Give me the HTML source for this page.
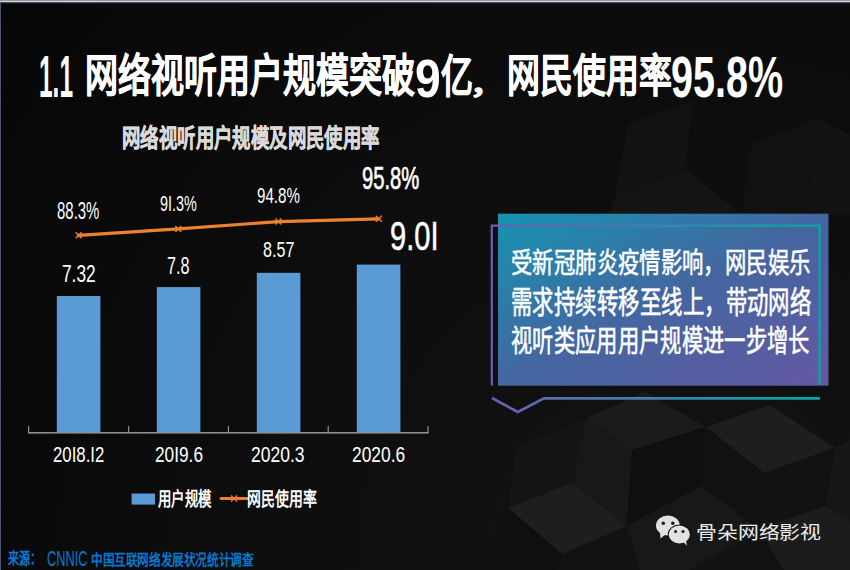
<!DOCTYPE html>
<html lang="zh-CN"><head><meta charset="utf-8">
<style>
html,body{margin:0;padding:0;}
body{width:850px;height:570px;overflow:hidden;position:relative;background:#0b0b0b;font-family:"Liberation Sans",sans-serif;}
.a{position:absolute;white-space:nowrap;line-height:1;transform-origin:0 0;}
#bg{position:absolute;left:0;top:0;}
</style></head><body>
<svg id="bg" width="850" height="570" viewBox="0 0 850 570">
  <defs><radialGradient id="bgg" gradientUnits="userSpaceOnUse" cx="680" cy="560" r="900"><stop offset="0" stop-color="#131313"/><stop offset="0.5" stop-color="#0d0d0d"/><stop offset="1" stop-color="#060606"/></radialGradient></defs>
  <rect x="0" y="0" width="850" height="570" fill="url(#bgg)"/>
  <!-- low-poly background -->
  <g>
    <polygon points="628,124 694,100 685,169 615,196" fill="#121212"/>
    <polygon points="694,100 751,143 741,214 685,169" fill="#0e0e0e"/>
    <polygon points="751,143 819,118 810,189 741,214" fill="#111111"/>
    <polygon points="819,118 850,135 850,200 810,189" fill="#131313"/>
    <polygon points="615,196 685,169 741,214 610,214" fill="#141414"/>
    <polygon points="741,214 810,189 850,200 850,214" fill="#121212"/>
    <polygon points="516,447 587,418 572,483 508,508" fill="#151515"/>
    <polygon points="508,508 572,483 627,526 562,554" fill="#1e1e1e"/>
    <polygon points="587,418 632,450 627,526 572,483" fill="#181818"/>
    <polygon points="587,418 645,392 706,427 632,450" fill="#1b1b1b"/>
    <polygon points="632,450 706,427 701,486 627,526" fill="#0f0f0f"/>
    <polygon points="706,427 770,405 835,448 764,473" fill="#1e1e1e"/>
    <polygon points="706,427 764,473 759,529 701,486" fill="#111111"/>
    <polygon points="764,473 835,448 825,506 759,529" fill="#121212"/>
    <polygon points="627,526 701,486 759,529 690,570 640,570" fill="#181818"/>
    <polygon points="759,529 825,506 850,521 850,570 784,570" fill="#1c1c1c"/>
    <polygon points="835,448 850,440 850,521 825,506" fill="#171717"/>
    <polygon points="508,508 562,554 555,570 480,570" fill="#0f0f0f"/>
  </g>
  <!-- top/left border -->
  <rect x="0" y="0" width="850" height="1" fill="#9a9a9a"/>
  <rect x="0" y="1" width="850" height="1" fill="#d4d4d4"/>
  <rect x="0" y="2" width="850" height="1" fill="#3e4e68"/>
  <rect x="0" y="3" width="850" height="1" fill="#141a24"/>
  <rect x="0" y="2" width="1" height="568" fill="#4a5670"/>

  <!-- axis -->
  <rect x="28" y="432" width="400.5" height="1.6" fill="#8f8f8f"/>
  <rect x="28" y="426" width="1.2" height="7" fill="#8f8f8f"/>
  <rect x="128" y="426" width="1.2" height="7" fill="#8f8f8f"/>
  <rect x="227.8" y="426" width="1.2" height="7" fill="#8f8f8f"/>
  <rect x="327.6" y="426" width="1.2" height="7" fill="#8f8f8f"/>
  <rect x="427.4" y="426" width="1.2" height="7" fill="#8f8f8f"/>
  <!-- bars -->
  <rect x="56.8" y="296" width="43.6" height="136" fill="#5b9bd5"/>
  <rect x="156.8" y="287.1" width="43.6" height="144.9" fill="#5b9bd5"/>
  <rect x="256.8" y="272.8" width="43.6" height="159.2" fill="#5b9bd5"/>
  <rect x="356.8" y="264.6" width="43.6" height="167.4" fill="#5b9bd5"/>
  <!-- line -->
  <polyline points="78.6,235.3 178.3,228.9 278.4,221.6 378.8,218.8" fill="none" stroke="#ef8030" stroke-width="3.2" stroke-linecap="round" stroke-linejoin="round"/>
  <g stroke="#ed7d31" stroke-width="1.4">
    <path d="M75.6,232.3 L81.6,238.3 M81.6,232.3 L75.6,238.3"/>
    <path d="M175.3,225.9 L181.3,231.9 M181.3,225.9 L175.3,231.9"/>
    <path d="M275.4,218.6 L281.4,224.6 M281.4,218.6 L275.4,224.6"/>
    <path d="M375.8,215.8 L381.8,221.8 M381.8,215.8 L375.8,221.8"/>
  </g>
  <!-- legend -->
  <rect x="131.6" y="493.5" width="23.4" height="11.1" fill="#5b9bd5"/>
  <line x1="221" y1="498.6" x2="247" y2="498.6" stroke="#ed7d31" stroke-width="3" stroke-linecap="round"/>
  <path d="M231,495.6 L237,501.6 M237,495.6 L231,501.6" stroke="#ed7d31" stroke-width="1.4"/>

  <!-- text box -->
  <defs>
    <linearGradient id="g1" x1="0" y1="0" x2="1" y2="1">
      <stop offset="0" stop-color="#1594b0"/>
      <stop offset="0.5" stop-color="#4466a0"/>
      <stop offset="1" stop-color="#6358a2"/>
    </linearGradient>
    <linearGradient id="g2" x1="0" y1="0" x2="1" y2="0">
      <stop offset="0" stop-color="#6e5cb4"/>
      <stop offset="1" stop-color="#08a8a2"/>
    </linearGradient>
  </defs>
  <rect x="498" y="213.7" width="330.5" height="172" fill="url(#g1)"/>
  <polyline points="491.8,385.4 491.8,225.6 819.6,225.6 819.6,384.7" fill="none" stroke="url(#g2)" stroke-width="2.2"/>
  <polyline points="492,398 517.8,412 544,398.4 820,398.4" fill="none" stroke="url(#g2)" stroke-width="2.6"/>
</svg>
<div class="a" id="t1" style="left:38.53px;top:46.64px;font-size:50px;font-weight:bold;color:#ffffff;transform:matrix(0.4892,0,0,1.1943,0,0);">1.1</div>
<div class="a" id="t2" style="left:85.02px;top:54.42px;font-size:50px;font-weight:900;color:#ffffff;transform:matrix(0.6606,0,0,0.9120,0,0);-webkit-text-stroke:0.5px #fff;">网络视听用户规模突破</div>
<div class="a" id="t3" style="left:414.95px;top:51.50px;font-size:50px;font-weight:bold;color:#ffffff;transform:matrix(0.9250,0,0,1.0833,0,0);">9</div>
<div class="a" id="t4" style="left:441.30px;top:55.22px;font-size:50px;font-weight:900;color:#ffffff;transform:matrix(0.6396,0,0,0.9102,0,0);-webkit-text-stroke:0.5px #fff;">亿</div>
<div class="a" id="t5" style="left:468.80px;top:71.42px;font-size:50px;font-weight:900;color:#ffffff;transform:matrix(0.7667,0,0,0.5526,0,0);-webkit-text-stroke:0.5px #fff;">，</div>
<div class="a" id="t6" style="left:506.63px;top:54.42px;font-size:50px;font-weight:900;color:#ffffff;transform:matrix(0.6581,0,0,0.9120,0,0);-webkit-text-stroke:0.5px #fff;">网民使用率</div>
<div class="a" id="t7" style="left:670.82px;top:48.50px;font-size:50px;font-weight:bold;color:#ffffff;transform:matrix(0.7913,0,0,1.1500,0,0);">95.8%</div>
<div class="a" id="ctitle" style="left:122.49px;top:125.95px;font-size:26px;font-weight:900;color:#d9d9d9;transform:matrix(0.7074,0,0,0.9741,0,0);-webkit-text-stroke:0.6px #d9d9d9;text-shadow:1px 1px 1px #000;">网络视听用户规模及网民使用率</div>
<div class="a" id="l1" style="left:57.40px;top:198.08px;font-size:20px;font-weight:normal;color:#ffffff;transform:matrix(0.7474,0,0,1.2071,0,0);">88.3%</div>
<div class="a" id="l2" style="left:160.08px;top:192.46px;font-size:20px;font-weight:normal;color:#ffffff;transform:matrix(0.7180,0,0,1.1143,0,0);">9I.3%</div>
<div class="a" id="l3" style="left:256.84px;top:184.44px;font-size:20px;font-weight:normal;color:#ffffff;transform:matrix(0.7571,0,0,1.1214,0,0);">94.8%</div>
<div class="a" id="l4" style="left:361.90px;top:163.57px;font-size:27px;font-weight:normal;color:#ffffff;transform:matrix(0.7487,0,0,1.1421,0,0);-webkit-text-stroke:0.6px #fff;">95.8%</div>
<div class="a" id="v1" style="left:61.94px;top:261.93px;font-size:20px;font-weight:normal;color:#ffffff;transform:matrix(0.8649,0,0,1.1571,0,0);">7.32</div>
<div class="a" id="v2" style="left:167.49px;top:254.43px;font-size:20px;font-weight:normal;color:#ffffff;transform:matrix(0.8115,0,0,1.1571,0,0);">7.8</div>
<div class="a" id="v3" style="left:263.00px;top:239.14px;font-size:20px;font-weight:normal;color:#ffffff;transform:matrix(0.8053,0,0,1.0857,0,0);">8.57</div>
<div class="a" id="v4" style="left:389.84px;top:216.23px;font-size:38px;font-weight:normal;color:#ffffff;transform:matrix(0.7650,0,0,1.0741,0,0);-webkit-text-stroke:0.5px #fff;">9.0I</div>
<div class="a" id="c1" style="left:52.76px;top:443.21px;font-size:20px;font-weight:normal;color:#ffffff;transform:matrix(0.8400,0,0,1.1286,0,0);">20I8.I2</div>
<div class="a" id="c2" style="left:154.94px;top:443.21px;font-size:20px;font-weight:normal;color:#ffffff;transform:matrix(0.8630,0,0,1.1286,0,0);">20I9.6</div>
<div class="a" id="c3" style="left:251.32px;top:443.21px;font-size:20px;font-weight:normal;color:#ffffff;transform:matrix(0.8750,0,0,1.1286,0,0);">2020.3</div>
<div class="a" id="c4" style="left:351.63px;top:443.21px;font-size:20px;font-weight:normal;color:#ffffff;transform:matrix(0.8700,0,0,1.1286,0,0);">2020.6</div>
<div class="a" id="lg1" style="left:158.30px;top:490.00px;font-size:19px;font-weight:900;color:#ffffff;transform:matrix(0.7053,0,0,1.0000,0,0);">用户规模</div>
<div class="a" id="lg2" style="left:247.27px;top:490.00px;font-size:19px;font-weight:900;color:#ffffff;transform:matrix(0.7309,0,0,1.0000,0,0);">网民使用率</div>
<div class="a" id="s1" style="left:8.40px;top:551.24px;font-size:17px;font-weight:bold;color:#0a78d0;transform:matrix(0.6500,0,0,0.9412,0,0);">来源：</div>
<div class="a" id="s2" style="left:47.40px;top:548.45px;font-size:17px;font-weight:normal;color:#0a78d0;transform:matrix(0.7509,0,0,1.2750,0,0);">CNNIC</div>
<div class="a" id="s3" style="left:90.92px;top:551.90px;font-size:17px;font-weight:bold;color:#0a78d0;transform:matrix(0.6826,0,0,0.9000,0,0);">中国互联网络发展状况统计调查</div>
<div class="a" id="tb1" style="left:510.89px;top:248.95px;font-size:30px;font-weight:normal;color:#ffffff;transform:matrix(0.7127,0,0,0.9500,0,0);-webkit-text-stroke:0.6px #fff;">受新冠肺炎疫情影响，网民娱乐</div>
<div class="a" id="tb2" style="left:510.88px;top:286.63px;font-size:30px;font-weight:normal;color:#ffffff;transform:matrix(0.7151,0,0,1.0267,0,0);-webkit-text-stroke:0.6px #fff;">需求持续转移至线上，带动网络</div>
<div class="a" id="tb3" style="left:510.89px;top:326.49px;font-size:30px;font-weight:normal;color:#ffffff;transform:matrix(0.7110,0,0,0.9900,0,0);-webkit-text-stroke:0.6px #fff;">视听类应用用户规模进一步增长</div>
<div class="a" id="wm" style="left:696.01px;top:522.70px;font-size:21px;font-weight:normal;color:#ececec;transform:matrix(0.9936,0,0,0.8905,0,0);">骨朵网络影视</div>
<svg class="a" style="left:654px;top:514px;" width="40" height="34" viewBox="0 0 40 34">
  <ellipse cx="13.9" cy="11.5" rx="11.9" ry="10" fill="#e2e2e2"/>
  <path d="M6,17 L6.5,24.5 L12,20 Z" fill="#e2e2e2"/>
  <ellipse cx="25.3" cy="20.5" rx="11.6" ry="10" fill="#141414"/>
  <ellipse cx="25.3" cy="20.5" rx="10.6" ry="9" fill="#e2e2e2"/>
  <path d="M28,27 L33,31.5 L31.5,25 Z" fill="#e2e2e2"/>
  <circle cx="9.3" cy="9.3" r="1.7" fill="#141414"/>
  <circle cx="18.8" cy="9.3" r="1.7" fill="#141414"/>
  <circle cx="21.6" cy="17.5" r="1.5" fill="#141414"/>
  <circle cx="29" cy="17.5" r="1.5" fill="#141414"/>
</svg>

</body></html>
